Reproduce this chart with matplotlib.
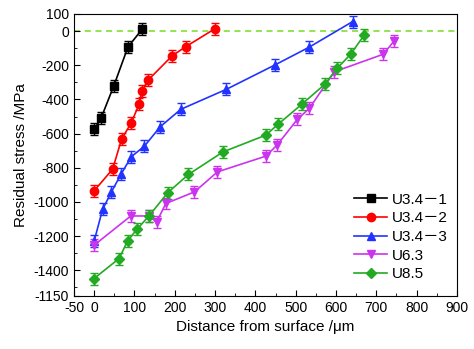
import matplotlib
matplotlib.use("Agg")
import matplotlib.pyplot as plt
from matplotlib.lines import Line2D
import numpy as np

plt.rcParams['font.family'] = ['Liberation Sans', 'Noto Sans CJK SC', 'DejaVu Sans']
plt.rcParams['axes.unicode_minus'] = False

# data
x1 = [0, 17, 49, 84, 119]
y1 = [-575, -511, -320, -93, 10]

x2 = [0, 46, 68, 92, 112, 119, 134, 194, 227, 300]
y2 = [-935, -808, -634, -537, -427, -349, -287, -144, -92, 14]

x3 = [0, 21, 43, 67, 92, 125, 164, 215, 328, 448, 533, 641]
y3 = [-1230, -1044, -941, -837, -736, -673, -560, -458, -341, -199, -95, 55]

x4 = [0, 91, 136, 155, 178, 249, 306, 426, 454, 504, 534, 596, 717, 745]
y4 = [-1253, -1082, -1082, -1117, -1009, -941, -824, -732, -667, -517, -452, -238, -136, -56]

x5 = [0, 62, 83, 106, 136, 183, 234, 320, 426, 456, 515, 572, 603, 637, 670]
y5 = [-1448, -1331, -1228, -1161, -1082, -945, -839, -707, -609, -546, -429, -312, -218, -134, -23]

err = 35

labels = ['U3.4\uff0d1', 'U3.4\uff0d2', 'U3.4\uff0d3', 'U6.3', 'U8.5']
colors = ['black', '#ff0000', '#2233ff', '#cc33ee', '#22aa22']
markers = ['s', 'o', '^', 'v', 'D']
xs = [x1, x2, x3, x4, x5]
ys = [y1, y2, y3, y4, y5]

fig = plt.figure(figsize=(4.74, 3.49), dpi=100)
ax = fig.add_axes([0.156, 0.152, 0.808, 0.808])

ax.axhline(0, color='#77dd22', ls=(0, (4, 3)), lw=1.1, zorder=1)

handles = []
for x, y, c, m, lab in zip(xs, ys, colors, markers, labels):
    ms = 5 if m == 'D' else 6
    ax.errorbar(x, y, yerr=err, color=c, marker=m, ms=ms, lw=1.2,
                capsize=3, elinewidth=1, capthick=1, zorder=3)
    handles.append(Line2D([], [], color=c, marker=m, ms=ms, lw=1.2, label=lab))

ax.set_xlim(-50, 900)
ax.set_ylim(-1550, 100)
ax.set_xticks([-50] + list(range(0, 901, 100)))
ax.set_xticks(list(range(50, 900, 100)), minor=True)
yt = [100] + list(range(0, -1401, -200)) + [-1550]
ax.set_yticks(yt)
ax.set_yticklabels([str(v) for v in yt[:-1]] + ['-1150'])
ax.set_yticks(list(range(-100, -1501, -200)), minor=True)
ax.tick_params(direction='in', labelsize=10, length=4)
ax.tick_params(which='minor', direction='in', length=2.5)

ax.set_xlabel('Distance from surface /\u03bcm', fontsize=11)
ax.set_ylabel('Residual stress /MPa', fontsize=11)

ax.legend(handles=handles, loc='lower right', bbox_to_anchor=(1.0, 0.02),
          frameon=False, fontsize=11, handlelength=2.2, handletextpad=0.3,
          labelspacing=0.3, borderaxespad=0.2)

fig.savefig('out.png', dpi=100)
